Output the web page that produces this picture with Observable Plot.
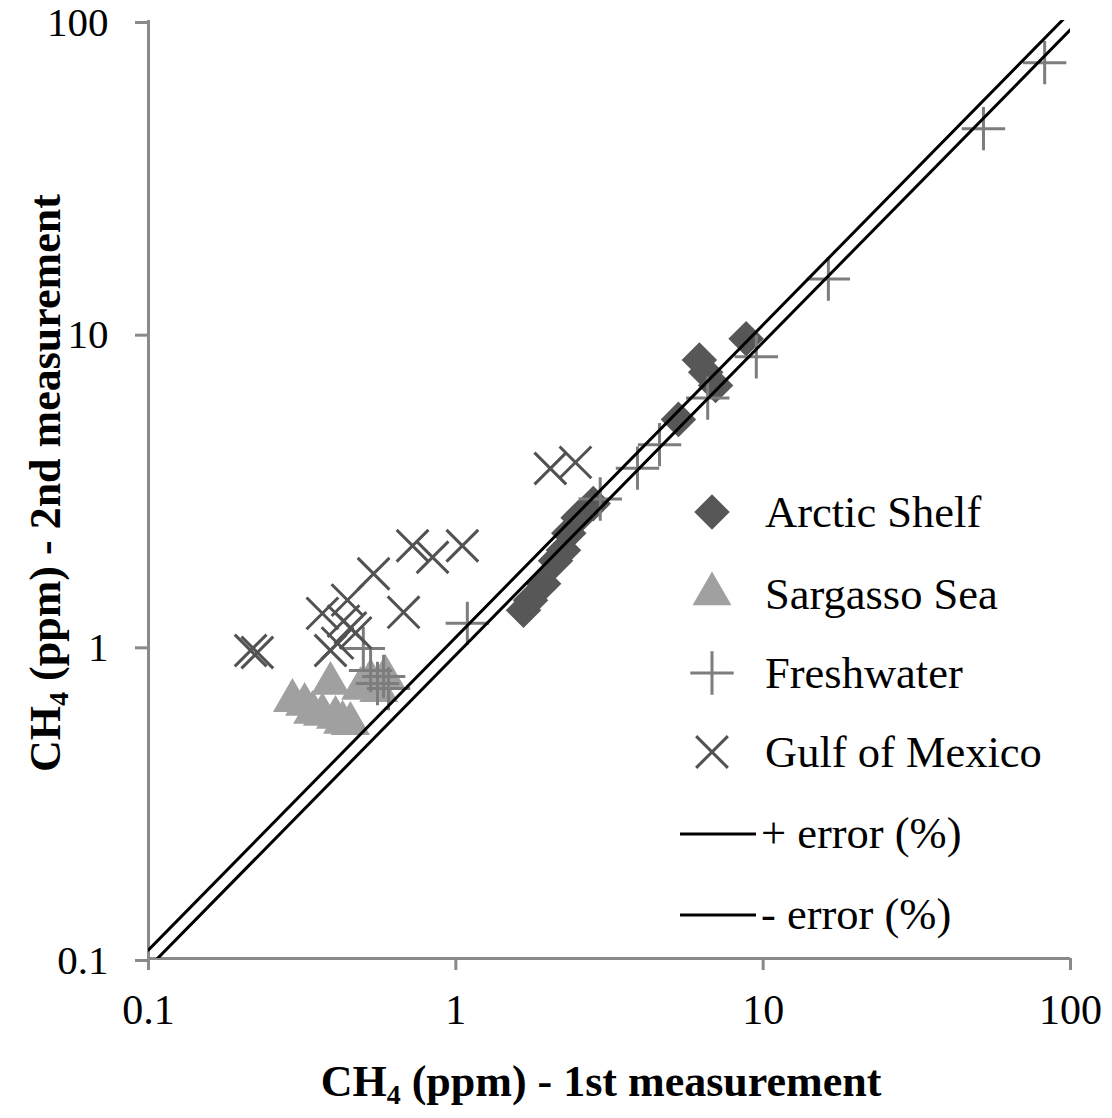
<!DOCTYPE html>
<html>
<head>
<meta charset="utf-8">
<script src="https://cdn.jsdelivr.net/npm/d3@7"></script>
<script src="https://cdn.jsdelivr.net/npm/@observablehq/plot@0.6"></script>
<style>
  html, body { margin: 0; padding: 0; background: #ffffff; }
  #chart svg { display: block; }
</style>
</head>
<body>
<div id="chart"></div>
<script>
// CH4 (ppm): first vs. second measurement of the same sample, by region
const arcticFirst  = [8.8, 6.2, 6.5, 7.0, 5.3, 2.8, 2.5, 2.33, 2.24, 2.11, 1.93, 1.75, 1.66];
const arcticSecond = [9.6, 8.2, 7.5, 6.8, 5.3, 2.85, 2.57, 2.29, 2.02, 1.87, 1.58, 1.40, 1.30];

const sargassoFirst  = [0.294, 0.322, 0.342, 0.368, 0.391, 0.406, 0.428, 0.454, 0.490, 0.528, 0.590, 0.561];
const sargassoSecond = [0.668, 0.649, 0.612, 0.603, 0.758, 0.590, 0.569, 0.564, 0.730, 0.774, 0.798, 0.719];

const freshFirst  = [82.4, 52.1, 16.3, 9.5, 6.6, 4.6, 3.9, 2.95, 1.09, 0.50, 0.528, 0.556, 0.582, 0.604];
const freshSecond = [73.3, 45.1, 14.9, 8.4, 6.2, 4.4, 3.7, 2.95, 1.18, 0.98, 0.834, 0.758, 0.798, 0.730];

const gulfFirst  = [0.215, 0.226, 0.368, 0.444, 0.540, 0.723, 0.840, 1.05, 0.676, 0.391, 0.412, 0.431, 0.454, 0.472, 2.03, 2.45];
const gulfSecond = [0.966, 0.952, 1.27, 1.40, 1.70, 2.09, 1.92, 2.09, 1.28, 0.966, 1.02, 1.20, 1.14, 1.10, 3.69, 3.86];

// Measurement error envelope (percent) around the 1:1 line
const errorPct = 6.5;

const tickValues = [0.1, 1, 10, 100];
const tickLabels = ["0.1", "1", "10", "100"];

const seriesNames = ["Arctic Shelf", "Sargasso Sea", "Freshwater", "Gulf of Mexico"];
const lineNames = ["+ error (%)", "- error (%)"];

const axisGray = "#8a8a8a";
const colors = {arctic: "#575757", sargasso: "#a0a0a0", fresh: "#7d7d7d", gulf: "#525252"};
const serif = "'Liberation Serif', 'Times New Roman', Times, serif";

const pairs = (xs, ys) => xs.map((x, i) => ({x, y: ys[i]}));
const arctic = pairs(arcticFirst, arcticSecond);
const sargasso = pairs(sargassoFirst, sargassoSecond);
const fresh = pairs(freshFirst, freshSecond);
const gulf = pairs(gulfFirst, gulfSecond);

const domain = [tickValues[0], tickValues[tickValues.length - 1]];
const errorLine = (sign) => domain.map((x) => ({x, y: x * (1 + sign * errorPct / 100)}));
const tickText = (d) => tickLabels[tickValues.findIndex((v) => Math.abs(v - d) < 1e-9)];

// marker radii
const R = {arctic: 16, sargasso: 14.5, fresh: 14, gulf: 14.5};

const chart = Plot.plot({
  width: 1112,
  height: 1118,
  marginLeft: 148,
  marginRight: 42,
  marginTop: 20,
  marginBottom: 160,
  style: {fontFamily: serif, fontSize: "42px", background: "#ffffff", color: "#000000", overflow: "visible"},
  x: {type: "log", domain},
  y: {type: "log", domain},
  marks: [
    Plot.axisX({ticks: tickValues, tickFormat: tickText, tickSize: 12, tickPadding: 24,
                stroke: axisGray, strokeWidth: 3, label: null, fontSize: 42}),
    Plot.axisY({ticks: tickValues, tickFormat: tickText, tickSize: 13, tickPadding: 27,
                stroke: axisGray, strokeWidth: 3, label: null, fontSize: 41, dy: 2}),
    Plot.ruleX([domain[0]], {stroke: axisGray, strokeWidth: 3}),
    Plot.ruleY([domain[0]], {stroke: axisGray, strokeWidth: 3}),
    Plot.dot(arctic, {x: "x", y: "y", symbol: "diamond2", r: R.arctic, fill: colors.arctic, stroke: "none"}),
    Plot.dot(sargasso, {x: "x", y: "y", symbol: "triangle", r: R.sargasso, fill: colors.sargasso, stroke: "none"}),
    Plot.dot(fresh, {x: "x", y: "y", symbol: "plus", r: R.fresh, stroke: colors.fresh, strokeWidth: 3}),
    Plot.dot(gulf, {x: "x", y: "y", symbol: "times", r: R.gulf, stroke: colors.gulf, strokeWidth: 3}),
    Plot.line(errorLine(+1), {x: "x", y: "y", stroke: "#000", strokeWidth: 3, clip: true}),
    Plot.line(errorLine(-1), {x: "x", y: "y", stroke: "#000", strokeWidth: 3, clip: true})
  ]
});

const svg = d3.select(chart);

// Axis titles with a subscript in CH4
function title(g, rest) {
  const t = g.append("text")
    .attr("text-anchor", "middle")
    .attr("font-family", serif)
    .attr("font-weight", "bold")
    .attr("font-size", 44)
    .attr("fill", "#000");
  t.append("tspan").text("CH");
  t.append("tspan").attr("font-size", 28).attr("dy", "0.3em").text("4");
  t.append("tspan").attr("dy", "-0.2em").text(rest);
  return t;
}
title(svg.append("g").attr("transform", "translate(601,1096)"), " (ppm) - 1st measurement");
title(svg.append("g").attr("transform", "translate(60,483) rotate(-90)"), " (ppm) - 2nd measurement");

// Legend
const legend = svg.append("g")
  .attr("font-family", serif)
  .attr("font-size", 44.5)
  .attr("text-anchor", "start")
  .attr("fill", "#000");
const symbolRows = [
  {name: seriesNames[0], type: d3.symbolDiamond2, r: R.arctic, fill: colors.arctic, stroke: "none"},
  {name: seriesNames[1], type: d3.symbolTriangle, r: R.sargasso, fill: colors.sargasso, stroke: "none"},
  {name: seriesNames[2], type: d3.symbolPlus, r: R.fresh, fill: "none", stroke: colors.fresh},
  {name: seriesNames[3], type: d3.symbolTimes, r: R.gulf, fill: "none", stroke: colors.gulf}
];
const rowY = [512, 594, 673, 752];
symbolRows.forEach((s, i) => {
  legend.append("path")
    .attr("transform", `translate(712,${rowY[i]})`)
    .attr("d", d3.symbol(s.type, Math.PI * s.r * s.r)())
    .attr("fill", s.fill)
    .attr("stroke", s.stroke)
    .attr("stroke-width", 3);
  legend.append("text").attr("x", 765).attr("y", rowY[i] + 15).attr("text-anchor", "start").text(s.name);
});
const lineRowY = [834, 915];
lineNames.forEach((name, i) => {
  legend.append("line")
    .attr("x1", 680).attr("x2", 756)
    .attr("y1", lineRowY[i]).attr("y2", lineRowY[i])
    .attr("stroke", "#000").attr("stroke-width", 3);
  legend.append("text").attr("x", 761).attr("y", lineRowY[i] + 14).attr("text-anchor", "start").text(name);
});

document.getElementById("chart").appendChild(chart);
</script>
</body>
</html>
